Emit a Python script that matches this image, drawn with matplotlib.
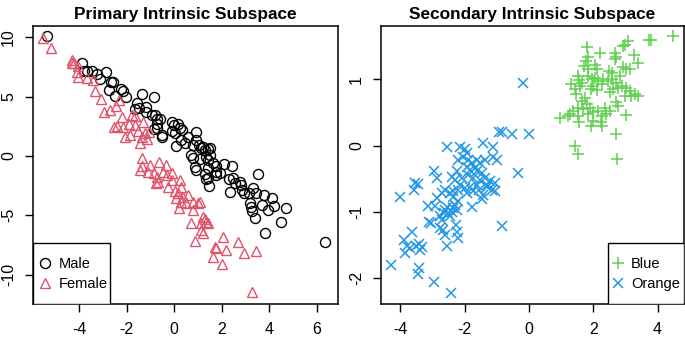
import matplotlib
matplotlib.use("Agg")
import matplotlib.pyplot as plt
from matplotlib.patches import Rectangle

plt.rcParams["font.family"] = ["Liberation Sans", "DejaVu Sans"]

# ---- Primary intrinsic subspace ----
male_x = [-5.33, -3.87, -3.79, -3.65, -3.45, -3.26, -3.12, -2.87, -2.67, -2.59,
          -2.73, -2.25, -2.17, -2.49, -2.03, -1.33, -0.85, -1.55, -1.65, -1.47,
          -1.20, -1.19, -0.95, -0.81, -0.74, -0.60, -0.74, -0.85, -0.74, -0.49,
          -0.53, -0.08, -0.01, 0.17, -0.11, 0.03, 0.35, 0.24, 0.06, 0.31,
          0.59, 0.45, 0.94, 0.91, 0.80, 1.04, 1.22, 1.43, 1.15, 1.50,
          1.29, 0.70, 0.80, 1.08, 1.33, 1.50, 1.43, 1.64, 1.75, 2.09,
          2.45, 0.87, 0.94, 1.29, 1.43, 1.43, 1.36, 1.47, 1.75, 1.92,
          1.78, 2.31, 2.48, 2.58, 2.79, 2.82, 2.34, 2.87, 2.93, 3.15,
          3.32, 3.43, 3.53, 3.77, 4.13, 3.18, 3.25, 3.28, 3.71, 3.95,
          4.19, 4.69, 3.39, 4.51, 3.84, 6.36]
male_y = [10.12, 7.82, 7.19, 7.19, 7.19, 6.91, 6.52, 7.11, 6.26, 6.21,
          5.56, 5.62, 5.51, 5.06, 5.00, 5.20, 4.95, 4.44, 3.94, 4.02,
          4.11, 3.74, 3.46, 3.46, 3.09, 3.09, 2.70, 2.25, 2.34, 1.63,
          1.77, 2.89, 2.61, 2.70, 2.11, 1.97, 2.19, 2.34, 0.87, 1.35,
          1.63, 1.12, 2.00, 1.35, 0.93, 0.93, 0.73, 0.59, 0.65, 0.65,
          0.51, 0.08, -0.19, -0.28, -0.11, 0.08, -0.34, -0.56, -0.82, -0.70,
          -0.82, -0.90, -1.18, -1.52, -1.04, -1.88, -1.97, -2.53, -1.60, -1.46,
          -1.32, -1.97, -1.88, -2.25, -2.17, -2.45, -3.01, -2.87, -3.09, -3.15,
          -2.72, -3.15, -1.52, -3.29, -3.57, -3.93, -4.33, -4.61, -4.13, -4.55,
          -4.22, -4.41, -5.25, -5.54, -6.47, -7.22]

female_x = [-5.50, -5.18, -4.31, -4.21, -4.31, -4.03, -4.10, -4.03, -3.68, -3.40,
            -3.33, -3.09, -2.95, -2.70, -2.45, -2.31, -2.52, -2.39, -2.21, -2.17,
            -2.07, -1.86, -1.79, -1.65, -1.89, -1.65, -1.51, -1.37, -1.44, -1.23,
            -1.05, -1.16, -1.30, -1.37, -1.33, -1.02, -0.63, -0.36, -1.44, -1.09,
            -0.85, -0.74, -0.46, -0.32, -0.11, -0.77, -0.67, -0.25, -0.11, 0.24,
            0.31, 0.03, 0.17, 0.10, 0.38, 0.59, 0.31, 0.52, 0.21, 0.80,
            1.01, 1.08, 0.80, 0.69, 0.87, 1.11, 1.22, 1.29, 1.36, 1.43,
            1.15, 1.22, 1.64, 2.06, 1.71, 1.78, 2.20, 2.69, 2.94, 3.43,
            2.03, 3.28]
female_y = [9.97, 9.13, 8.09, 7.87, 7.82, 7.59, 7.11, 6.69, 6.55, 6.41,
            5.51, 4.81, 3.68, 3.88, 4.22, 4.72, 2.47, 2.55, 3.31, 2.47,
            1.63, 1.77, 3.46, 3.37, 2.70, 2.61, 2.13, 1.63, 1.07, 1.91,
            2.05, 1.41, 2.89, -0.19, -0.82, -0.76, -0.48, -0.76, -1.18, -1.32,
            -1.46, -1.75, -1.32, -1.60, -1.46, -2.25, -2.17, -2.59, -2.02, -2.02,
            -2.59, -2.93, -3.15, -3.57, -3.43, -3.29, -3.85, -3.99, -4.41, -3.85,
            -3.99, -3.85, -4.55, -5.62, -7.14, -5.68, -5.12, -5.34, -5.54, -5.68,
            -6.24, -6.52, -8.49, -6.80, -7.65, -7.79, -7.93, -7.22, -8.20, -8.01,
            -9.13, -11.49]

# ---- Secondary intrinsic subspace ----
blue_x = [4.48, 3.74, 3.81, 3.07, 2.98, 2.93, 1.79, 2.20, 2.69, 2.72,
          2.69, 3.26, 3.39, 1.84, 1.76, 1.72, 1.84, 2.05, 2.10, 2.48,
          2.57, 2.93, 3.03, 3.14, 2.83, 1.51, 1.55, 1.30, 1.43, 1.58,
          1.64, 1.84, 1.95, 2.05, 2.15, 2.00, 1.93, 2.10, 2.26, 2.31,
          2.46, 2.57, 2.72, 2.77, 2.62, 2.52, 2.88, 3.03, 3.14, 3.29,
          3.39, 3.17, 2.98, 2.72, 2.77, 1.45, 1.74, 1.64, 1.79, 1.89,
          1.69, 1.53, 1.38, 1.27, 1.22, 0.96, 1.53, 1.55, 1.84, 2.00,
          2.15, 2.36, 2.52, 2.41, 2.26, 2.00, 1.93, 2.24, 2.26, 3.03,
          2.70, 1.43, 1.53, 2.75]
blue_y = [1.65, 1.59, 1.59, 1.58, 1.51, 1.50, 1.48, 1.39, 1.40, 1.33,
          1.30, 1.36, 1.25, 1.33, 1.28, 1.20, 1.15, 1.21, 1.15, 1.13,
          1.10, 1.18, 1.15, 1.16, 1.05, 1.05, 0.99, 0.93, 0.85, 0.90,
          0.95, 1.05, 1.00, 1.02, 0.97, 0.90, 0.85, 0.83, 0.93, 1.01,
          0.98, 1.00, 0.95, 0.87, 0.85, 0.80, 0.90, 0.87, 0.82, 0.78,
          0.75, 0.75, 0.75, 0.65, 0.60, 0.78, 0.72, 0.67, 0.62, 0.57,
          0.55, 0.57, 0.52, 0.47, 0.45, 0.42, 0.45, 0.35, 0.47, 0.50,
          0.52, 0.57, 0.52, 0.47, 0.45, 0.37, 0.30, 0.35, 0.30, 0.46,
          0.18, 0.00, -0.13, -0.20]

orange_x = [-0.20, -0.85, -0.52, 0.00, -2.56, -1.42, -1.13, -0.92, -2.14, -1.99,
            -1.92, -2.04, -2.20, -1.89, -1.78, -1.62, -1.52, -1.37, -1.11, -1.00,
            -1.93, -1.83, -1.68, -1.62, -1.47, -2.25, -2.40, -2.30, -2.09, -1.89,
            -1.73, -1.52, -1.37, -1.21, -1.06, -1.31, -1.16, -1.06, -2.14, -1.99,
            -1.83, -1.62, -1.57, -1.73, -1.93, -2.20, -2.35, -2.45, -2.61, -2.71,
            -2.97, -2.87, -3.54, -3.59, -4.01, -3.47, -3.13, -2.92, -2.85, -3.10,
            -3.05, -3.64, -3.90, -3.80, -3.85, -3.70, -3.51, -3.41, -3.33, -3.39,
            -4.29, -3.42, -3.44, -2.97, -2.42, -2.76, -2.71, -2.66, -2.61, -2.56,
            -2.51, -2.45, -2.40, -2.35, -2.30, -2.25, -2.27, -2.25, -2.20, -2.54,
            -2.61, -2.68, -2.76, -1.76, -0.85, -0.33, -2.35, -2.20, -1.47, -1.42,
            -1.31]
orange_y = [0.94, 0.21, 0.18, 0.18, -0.02, 0.04, -0.02, 0.21, -0.02, -0.06,
            -0.11, -0.17, -0.22, -0.22, -0.27, -0.22, -0.27, -0.22, -0.17, -0.22,
            -0.32, -0.37, -0.34, -0.39, -0.42, -0.39, -0.47, -0.52, -0.49, -0.44,
            -0.49, -0.52, -0.49, -0.54, -0.57, -0.62, -0.67, -0.69, -0.59, -0.64,
            -0.62, -0.59, -0.67, -0.69, -0.72, -0.67, -0.69, -0.72, -0.67, -0.72,
            -0.39, -0.49, -0.57, -0.67, -0.78, -0.58, -0.91, -0.91, -0.79, -1.15,
            -1.17, -1.30, -1.43, -1.51, -1.62, -1.55, -1.52, -1.48, -1.53, -1.57,
            -1.80, -1.85, -1.94, -2.06, -2.23, -1.07, -1.12, -1.02, -0.97, -0.92,
            -1.02, -1.07, -1.00, -0.94, -0.89, -0.97, -1.20, -1.30, -1.40, -1.52,
            -1.35, -1.27, -1.25, -0.92, -1.21, -0.42, -0.77, -0.84, -0.81, -0.74,
            -0.59]

# R default palette colours
COL_FEMALE = "#DF536B"
COL_BLUE = "#61D04F"
COL_ORANGE = "#2297E6"


def r_style(ax, xticks, yticks, xlim, ylim):
    ax.set_xlim(*xlim)
    ax.set_ylim(*ylim)
    ax.set_xticks(xticks)
    ax.set_yticks(yticks)
    ax.set_xticklabels([str(t) for t in xticks])
    ax.set_yticklabels([str(t) for t in yticks], rotation=90, va="center")
    ax.tick_params(direction="out", length=6, width=1, labelsize=11.5, pad=6)
    ax.tick_params(axis="x", pad=7)
    for s in ax.spines.values():
        s.set_linewidth(1.1)


def r_legend(ax, box_x0, box_w, anchor_x):
    # R-style legend: white box flush with the plot corner, items inside
    box = Rectangle((box_x0, 0), box_w, 0.219, transform=ax.transAxes,
                    facecolor="white", edgecolor="black", lw=1.0, zorder=5)
    ax.add_patch(box)
    leg = ax.legend(loc="center left", bbox_to_anchor=(anchor_x, 0.108), borderaxespad=0,
                    borderpad=0, frameon=False, fontsize=10.5, handletextpad=0.4,
                    handlelength=1.0, labelspacing=0.4)
    leg.set_zorder(6)
    return leg


fig = plt.figure(figsize=(6.85, 3.4), dpi=100)
ax1 = fig.add_axes([0.048, 0.106, 0.445, 0.818])
ax2 = fig.add_axes([0.556, 0.106, 0.442, 0.818])

# (a) primary
ax1.plot(male_x, male_y, "o", ms=7.2, mfc="none", mec="black", mew=1.0, label="Male")
ax1.plot(female_x, female_y, "^", ms=7.8, mfc="none", mec=COL_FEMALE, mew=1.0, label="Female")
r_style(ax1, [-4, -2, 0, 2, 4, 6], [-10, -5, 0, 5, 10], (-5.94, 6.88), (-12.48, 10.96))
ax1.set_title("Primary Intrinsic Subspace", fontsize=12.4, fontweight="bold", pad=5)
r_legend(ax1, 0.0, 0.2526, 0.0167)

# (b) secondary
ax2.plot(blue_x, blue_y, "+", ms=9, mec=COL_BLUE, mew=1.1, label="Blue")
ax2.plot(orange_x, orange_y, "x", ms=7, mec=COL_ORANGE, mew=1.1, label="Orange")
r_style(ax2, [-4, -2, 0, 2, 4], [-2, -1, 0, 1], (-4.61, 4.81), (-2.39, 1.805))
ax2.set_title("Secondary Intrinsic Subspace", fontsize=12.4, fontweight="bold", pad=5)
r_legend(ax2, 0.75, 0.25, 0.758)

fig.savefig("out.png", dpi=100)
